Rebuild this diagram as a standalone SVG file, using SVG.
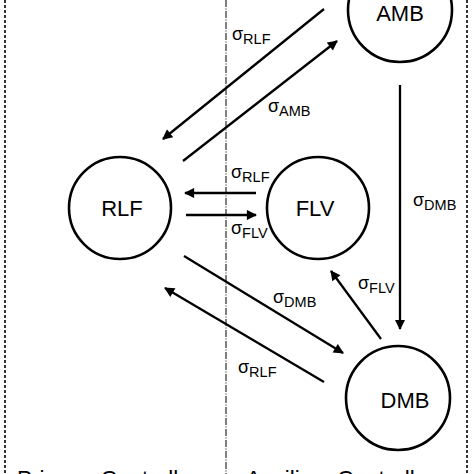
<svg xmlns="http://www.w3.org/2000/svg" width="474" height="474" viewBox="0 0 474 474">
<defs>
<marker id="ah" viewBox="0 0 10 10" refX="9" refY="5" markerWidth="5" markerHeight="4.4" orient="auto" markerUnits="strokeWidth">
<path d="M0,0 L10,5 L0,10 z" fill="#000"/>
</marker>
<style>
.node{fill:#fff;stroke:#000;stroke-width:2.6}
.nl{font-family:"Liberation Sans",Arial,sans-serif;font-size:22px;text-anchor:middle;fill:#000}
.edge{stroke:#000;stroke-width:2.3;fill:none;marker-end:url(#ah)}
.lab{font-family:"Liberation Sans",Arial,sans-serif;font-size:18px;fill:#000}
.sub{font-size:14.5px}
.bt{font-family:"Liberation Sans",Arial,sans-serif;font-size:22.5px;fill:#000}
</style>
</defs>
<rect width="474" height="474" fill="#fff"/>
<g id="frame">
<line x1="5" y1="0" x2="5" y2="474" stroke="#000" stroke-width="1.6" stroke-dasharray="3,2"/>
<line x1="467" y1="0" x2="467" y2="474" stroke="#000" stroke-width="1.6" stroke-dasharray="3,2"/>
<line x1="226" y1="0" x2="226" y2="474" stroke="#000" stroke-width="1" stroke-dasharray="7,1.5,1,1.5"/>
</g>
<g id="connectors">
<line class="edge" x1="324" y1="9" x2="163" y2="139"/>
<line class="edge" x1="183" y1="161" x2="337" y2="41"/>
<line class="edge" x1="256" y1="193" x2="185" y2="193"/>
<line class="edge" x1="186" y1="215" x2="256" y2="215"/>
<line class="edge" x1="400" y1="85" x2="400" y2="329"/>
<line class="edge" x1="184" y1="256" x2="343" y2="353"/>
<line class="edge" x1="324" y1="382" x2="165" y2="288"/>
<line class="edge" x1="381" y1="339" x2="331" y2="271"/>
</g>
<g id="labels">
<text class="lab" x="232" y="40">σ<tspan class="sub" dy="4">RLF</tspan></text>
<text class="lab" x="268" y="112">σ<tspan class="sub" dy="4">AMB</tspan></text>
<text class="lab" x="231" y="178">σ<tspan class="sub" dy="4">RLF</tspan></text>
<text class="lab" x="231" y="234">σ<tspan class="sub" dy="4">FLV</tspan></text>
<text class="lab" x="413" y="206">σ<tspan class="sub" dy="4">DMB</tspan></text>
<text class="lab" x="358" y="289">σ<tspan class="sub" dy="4">FLV</tspan></text>
<text class="lab" x="273" y="303">σ<tspan class="sub" dy="4">DMB</tspan></text>
<text class="lab" x="238" y="373">σ<tspan class="sub" dy="4">RLF</tspan></text>
</g>
<g id="AMB"><circle class="node" cx="400" cy="10" r="52"/><text class="nl" x="400" y="21">AMB</text></g>
<g id="RLF"><circle class="node" cx="120" cy="208" r="51"/><text class="nl" x="122" y="216">RLF</text></g>
<g id="FLV"><circle class="node" cx="318" cy="208" r="51"/><text class="nl" x="315" y="216">FLV</text></g>
<g id="DMB"><circle class="node" cx="398" cy="398" r="52"/><text class="nl" x="405" y="408">DMB</text></g>
<g id="bottom">
<text class="bt" x="17" y="486">Primary Controller</text>
<text class="bt" x="246" y="486">Auxiliary Controller</text>
</g>
</svg>
